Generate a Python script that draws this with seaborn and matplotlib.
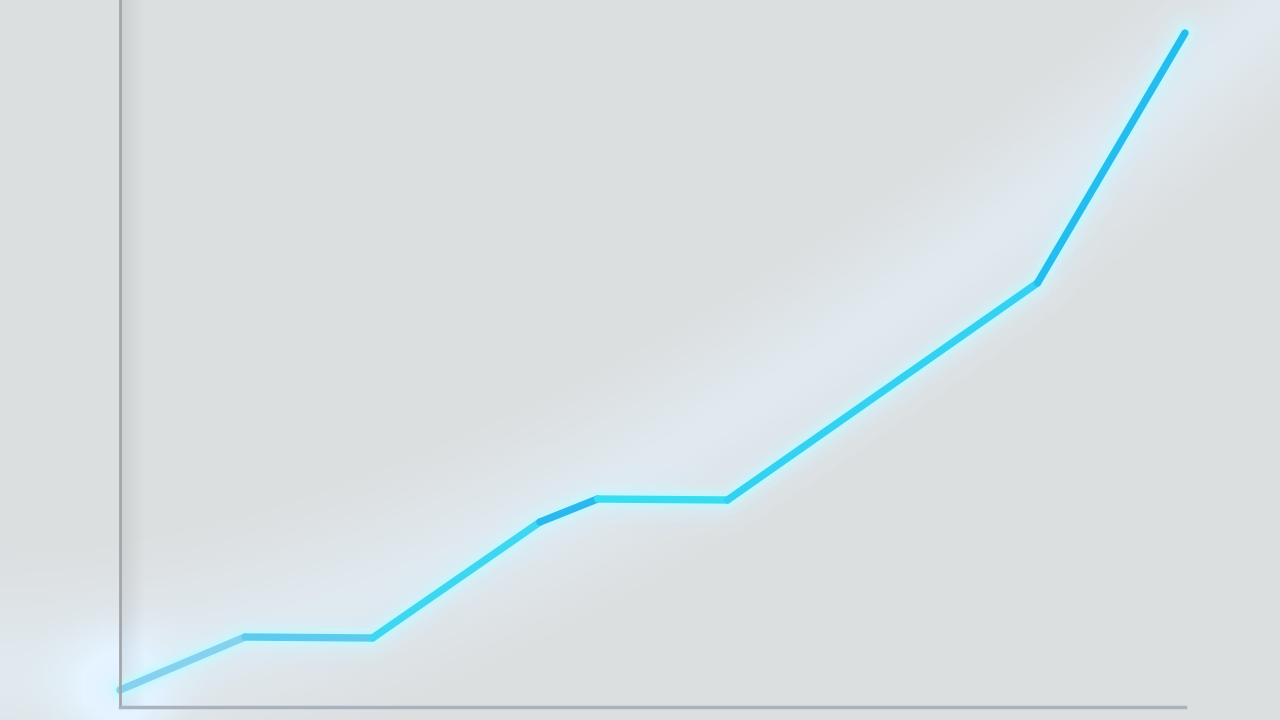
import numpy as np
import pandas as pd
import matplotlib
matplotlib.use("Agg")
import matplotlib.pyplot as plt
import seaborn as sns

# Data
x_vals = [0.0, 1.0, 2.02, 3.36, 3.82, 4.86, 7.34, 8.52]
y_vals = [1.7, 7.0, 6.9, 18.5, 20.8, 20.7, 42.4, 67.4]
seg_colors = ["#86d2ee", "#5ccbee", "#3fd6f0", "#2bb8ec", "#3adcf0", "#34d2f0", "#25bcee"]

sns.set_theme(style="white")
bg = "#dcdfe0"
fig = plt.figure(figsize=(12.8, 7.2), dpi=100, facecolor=bg)
ax = fig.add_axes([120/1280, 13/720, (1185-120)/1280, 707/720])
ax.set_facecolor("none")

# soft background haze following the line trend
grad_ax = fig.add_axes([0, 0, 1, 1], zorder=-1)
grad_ax.axis("off")
yy, xx = np.mgrid[0:1:200j, 0:1:360j]
glow = np.exp(-((yy - (0.06 + 0.94 * xx**1.7)) ** 2) / 0.012) * 0.5
# bright spot near origin
glow += np.exp(-(((xx - 0.094) / 0.04) ** 2 + ((yy - 0.04) / 0.07) ** 2)) * 1.0
glow = np.clip(glow, 0, 1)
img = np.zeros((200, 360, 4))
img[..., 0] = 0.90
img[..., 1] = 0.96
img[..., 2] = 1.0
img[..., 3] = glow
grad_ax.imshow(img, extent=[0, 1, 0, 1], origin="lower", aspect="auto")
# shadow right of left axis
sh = np.zeros((10, 60, 4))
sh[..., :3] = 0.55
sh[..., 3] = np.linspace(0.18, 0, 60)[None, :]
grad_ax.imshow(sh, extent=[121/1280, 145/1280, 13/720, 1], origin="lower", aspect="auto")
grad_ax.set_xlim(0, 1)
grad_ax.set_ylim(0, 1)

df = pd.DataFrame({"x": x_vals, "y": y_vals})

# glow layers
for lw, a, c in [(50, 0.08, "#dceeff"), (34, 0.13, "#d6f4ff"), (22, 0.24, "#cff8ff"),
                 (14, 0.45, "#c6faff"), (9, 0.75, "#c0f8ff")]:
    sns.lineplot(data=df, x="x", y="y", ax=ax, color=c, lw=lw, alpha=a,
                 solid_capstyle="round", solid_joinstyle="round", legend=False)
for line in ax.lines:
    line.set_clip_on(False)

# main line with per-segment colors
for i in range(len(x_vals) - 1):
    ax.plot(x_vals[i:i+2], y_vals[i:i+2], color=seg_colors[i],
            lw=5.3, solid_capstyle="round", solid_joinstyle="round", clip_on=False)

ax.set_xlim(0, 8.52)
ax.set_ylim(0, 70.7)
ax.set_xticks([])
ax.set_yticks([])
ax.set_xlabel("")
ax.set_ylabel("")
for s in ["top", "right"]:
    ax.spines[s].set_visible(False)
ax.spines["left"].set_color("#a2a6aa")
ax.spines["left"].set_linewidth(2)
ax.spines["bottom"].set_color("#a9b2be")
ax.spines["bottom"].set_linewidth(2.5)

fig.savefig("out.png", dpi=100, facecolor=bg)
